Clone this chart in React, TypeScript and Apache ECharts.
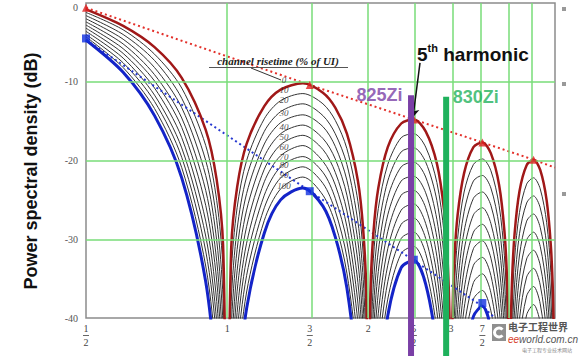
import React, { useEffect, useRef } from 'react';
import * as echarts from 'echarts';

// frequency (in units of the bit rate) of the sampled points
const FREQ = [0.5, 0.6, 0.7, 0.8, 0.9, 0.95, 0.98, 1.0,
  1.02, 1.05, 1.1, 1.2, 1.3, 1.45, 1.6, 1.7, 1.8, 1.9, 1.95, 1.98, 2.0,
  2.02, 2.05, 2.1, 2.2, 2.35, 2.5, 2.65, 2.8, 2.9, 2.95, 2.98, 3.0,
  3.02, 3.05, 3.1, 3.2, 3.35, 3.5, 3.65, 3.8, 3.9, 3.95, 3.98, 4.0,
  4.02, 4.05, 4.1, 4.2, 4.35, 4.5, 4.65, 4.8, 4.9, 4.95, 4.98, 5.0];

// power spectral density (dB) for channel risetime 0 % ... 100 % of UI
const RT0 = [-0.8, -2.9, -5.6, -9.5, -16.1, -22.5, -30.7, -60,
  -31.1, -23.4, -17.9, -13.1, -11.0, -10.2, -11.4, -13.3, -16.6, -22.6, -28.8, -36.8, -60,
  -37.0, -29.2, -23.5, -18.3, -15.3, -14.8, -16.3, -20.4, -26.3, -32.4, -40.4, -60,
  -40.5, -32.7, -26.9, -21.6, -18.3, -17.7, -19.1, -23.1, -28.9, -34.9, -42.9, -60,
  -43.0, -35.1, -29.3, -23.9, -20.6, -19.9, -21.2, -25.1, -30.9, -36.9, -44.8, -60];
const RT10 = [-1.2, -3.4, -6.5, -10.8, -18.1, -25.1, -34.1, -60,
  -34.5, -26.0, -20.0, -14.7, -12.4, -11.5, -12.8, -14.9, -18.5, -25.2, -31.9, -40.8, -60,
  -41.0, -32.4, -26.1, -20.5, -17.1, -16.6, -18.3, -22.8, -29.2, -35.9, -44.7, -60,
  -44.8, -36.2, -29.9, -24.0, -20.5, -19.8, -21.3, -25.7, -32.1, -38.7, -47.5, -60,
  -47.6, -38.9, -32.5, -26.6, -23.0, -22.2, -23.6, -27.9, -34.2, -40.9, -49.6, -60];
const RT20 = [-1.6, -4.0, -7.3, -12.1, -20.0, -27.6, -37.5, -60,
  -37.9, -28.7, -22.1, -16.3, -13.8, -12.8, -14.3, -16.6, -20.5, -27.8, -35.1, -44.8, -60,
  -45.0, -35.7, -28.8, -22.6, -18.9, -18.4, -20.2, -25.1, -32.2, -39.5, -49.1, -60,
  -49.2, -39.8, -32.9, -26.5, -22.6, -21.9, -23.5, -28.3, -35.3, -42.5, -52.1, -60,
  -52.2, -42.8, -35.8, -29.3, -25.4, -24.5, -26.0, -30.7, -37.6, -44.9, -54.4, -60];
const RT30 = [-2.0, -4.6, -8.2, -13.3, -21.9, -30.2, -40.9, -60,
  -41.3, -31.3, -24.2, -17.9, -15.2, -14.2, -15.7, -18.2, -22.5, -30.3, -38.3, -48.8, -60,
  -49.0, -38.9, -31.5, -24.7, -20.8, -20.2, -22.1, -27.5, -35.1, -43.0, -53.4, -60,
  -53.6, -43.4, -35.9, -29.0, -24.8, -24.0, -25.7, -30.9, -38.4, -46.3, -56.7, -60,
  -56.8, -46.6, -39.0, -32.0, -27.7, -26.8, -28.5, -33.5, -41.0, -48.8, -59.2, -60];
const RT40 = [-2.4, -5.2, -9.1, -14.6, -23.8, -32.8, -44.2, -60,
  -44.7, -34.0, -26.3, -19.5, -16.6, -15.5, -17.2, -19.8, -24.4, -32.9, -41.5, -52.8, -60,
  -53.0, -42.1, -34.1, -26.9, -22.6, -22.0, -24.1, -29.8, -38.0, -46.5, -60, -60,
  -60, -47.0, -38.9, -31.4, -26.9, -26.0, -28.0, -33.5, -41.6, -50.1, -60, -60,
  -60, -50.4, -42.3, -34.7, -30.1, -29.1, -30.9, -36.4, -44.4, -52.8, -60, -60];
const RT50 = [-2.8, -5.8, -9.9, -15.8, -25.7, -35.3, -47.6, -60,
  -48.1, -36.6, -28.4, -21.1, -18.0, -16.8, -18.6, -21.5, -26.4, -35.5, -44.7, -60, -60,
  -60, -45.4, -36.8, -29.0, -24.4, -23.8, -26.0, -32.2, -41.0, -50.1, -60, -60,
  -60, -50.5, -41.9, -33.9, -29.1, -28.1, -30.2, -36.1, -44.8, -53.9, -60, -60,
  -60, -54.2, -45.5, -37.4, -32.5, -31.4, -33.3, -39.2, -47.8, -60, -60, -60];
const RT60 = [-3.2, -6.4, -10.8, -17.1, -27.7, -37.9, -51.0, -60,
  -51.5, -39.3, -30.5, -22.7, -19.4, -18.1, -20.1, -23.1, -28.4, -38.1, -47.9, -60, -60,
  -60, -48.6, -39.4, -31.2, -26.3, -25.5, -28.0, -34.5, -43.9, -53.6, -60, -60,
  -60, -54.1, -44.9, -36.4, -31.2, -30.2, -32.4, -38.8, -48.0, -60, -60, -60,
  -60, -58.0, -48.7, -40.1, -34.8, -33.7, -35.8, -42.0, -51.2, -60, -60, -60];
const RT70 = [-3.6, -7.0, -11.7, -18.4, -29.6, -40.5, -54.4, -60,
  -55.0, -41.9, -32.5, -24.4, -20.8, -19.5, -21.5, -24.8, -30.3, -40.6, -51.1, -60, -60,
  -60, -51.8, -42.1, -33.3, -28.1, -27.3, -29.9, -36.9, -46.9, -60, -60, -60,
  -60, -57.7, -47.8, -38.8, -33.3, -32.3, -34.6, -41.4, -51.2, -60, -60, -60,
  -60, -60, -52.0, -42.9, -37.2, -36.0, -38.2, -44.8, -54.6, -60, -60, -60];
const RT80 = [-4.0, -7.6, -12.5, -19.6, -31.5, -43.0, -60, -60,
  -60, -44.6, -34.6, -26.0, -22.2, -20.8, -22.9, -26.4, -32.3, -43.2, -54.2, -60, -60,
  -60, -55.0, -44.8, -35.4, -29.9, -29.1, -31.8, -39.2, -49.8, -60, -60, -60,
  -60, -60, -50.8, -41.3, -35.5, -34.4, -36.8, -44.0, -54.4, -60, -60, -60,
  -60, -60, -55.2, -45.6, -39.6, -38.3, -40.6, -47.6, -60, -60, -60, -60];
const RT90 = [-4.3, -8.2, -13.4, -20.9, -33.4, -45.6, -60, -60,
  -60, -47.2, -36.7, -27.6, -23.6, -22.1, -24.4, -28.0, -34.3, -45.8, -60, -60, -60,
  -60, -58.3, -47.4, -37.6, -31.8, -30.9, -33.8, -41.6, -52.7, -60, -60, -60,
  -60, -60, -53.8, -43.8, -37.6, -36.5, -39.1, -46.6, -57.6, -60, -60, -60,
  -60, -60, -58.5, -48.3, -41.9, -40.6, -43.1, -50.5, -60, -60, -60, -60];
const RT100 = [-4.7, -8.8, -14.3, -22.2, -35.4, -48.1, -60, -60,
  -60, -49.9, -38.8, -29.2, -25.0, -23.5, -25.8, -29.7, -36.2, -48.3, -60, -60, -60,
  -60, -60, -50.1, -39.7, -33.6, -32.7, -35.7, -43.9, -55.7, -60, -60, -60,
  -60, -60, -56.8, -46.2, -39.8, -38.5, -41.3, -49.2, -60, -60, -60, -60,
  -60, -60, -60, -51.0, -44.3, -42.9, -45.5, -53.3, -60, -60, -60, -60];

const MID_CURVES = [RT10, RT20, RT30, RT40, RT50, RT60, RT70, RT80, RT90];

// risetime labels placed on the curves of the 2nd lobe
const RISE_PCT = ['0', '10', '20', '30', '40', '50', '60', '70', '80', '90', '100'];
const RISE_LABEL_F = 1.322;
const RISE_LABEL_DB = [-9.8, -11.0, -12.3, -14.0, -15.7, -17.0, -18.3, -19.5, -20.6, -21.8, -23.2];

// envelopes and lobe peak markers
const RED_ENV_F = [0.5, 1.5, 2.5, 3.5, 4.5, 5];
const RED_ENV_DB = [-0.6, -10.4, -14.8, -17.7, -19.9, -20.9];
const RED_PEAK_F = [0.5, 1.5, 2.5, 3.5, 4.5];
const RED_PEAK_DB = [-0.6, -10.4, -14.8, -17.7, -19.9];
const BLUE_ENV_F = [0.5, 1.5, 2.5, 3.5, 3.72];
const BLUE_ENV_DB = [-4.7, -23.9, -32.7, -38.5, -40];
const BLUE_PEAK_F = [0.5, 1.5, 2.5, 3.5];
const BLUE_PEAK_DB = [-4.5, -23.9, -32.6, -38.1];

// oscilloscope bandwidth markers
const SCOPE_NAMES = ['825Zi', '830Zi'];
const SCOPE_F = [2.466, 2.93];
const SCOPE_TOP_DB = [-11.7, -11.9];
const SCOPE_COLORS = ['#7a3fa6', '#1fb15c'];

// axes
const TICKS = [0.5, 1, 1.5, 2, 2.5, 3, 3.5];
const TICK_TEXT = [['1', '2'], ['1'], ['3', '2'], ['2'], ['5', '2'], ['3'], ['7', '2']];
const GRID_X = [1, 1.5, 2, 2.5, 3, 3.5, 4, 4.5];
const GRID_Y = [-10, -20, -30];
const HARMONIC_ARROW_F = [2.577, 2.49];
const HARMONIC_ARROW_DB = [-7.6, -14.5];

const lx = (f: number) => Math.log10(f);
const pts = (vals: number[]) => FREQ.map((f, i) => [lx(f), vals[i]]);
const SERIF = '"Liberation Serif", "DejaVu Serif", serif';
const SANS = '"Liberation Sans", Arial, sans-serif';

export default function App() {
  const ref = useRef<HTMLDivElement>(null);
  useEffect(() => {
    if (!ref.current) return;
    const chart = echarts.init(ref.current, null, { renderer: 'svg' });

    const series: any[] = [];
    // grid lines
    series.push({
      type: 'line', data: [[lx(0.5), 0]], showSymbol: false, silent: true, z: 1,
      lineStyle: { width: 0 },
      markLine: {
        silent: true, symbol: ['none', 'none'], label: { show: false },
        lineStyle: { color: '#78dc78', width: 1.5, type: 'solid' },
        data: [...GRID_X.map((f) => ({ xAxis: lx(f) })), ...GRID_Y.map((v) => ({ yAxis: v }))],
      },
    });
    MID_CURVES.forEach((c) => {
      series.push({
        type: 'line', data: pts(c), showSymbol: false, smooth: 0.3, z: 2,
        lineStyle: { color: '#333', width: 1 },
      });
    });
    series.push({
      type: 'line', data: RED_ENV_F.map((f, i) => [lx(f), RED_ENV_DB[i]]), showSymbol: false, z: 3,
      lineStyle: { color: '#e3302a', width: 2, type: [2, 3] },
    });
    series.push({
      type: 'line', data: BLUE_ENV_F.map((f, i) => [lx(f), BLUE_ENV_DB[i]]), showSymbol: false, z: 3,
      lineStyle: { color: '#2638d0', width: 2, type: [2, 3] },
    });
    series.push({
      type: 'line', data: pts(RT0), showSymbol: false, smooth: 0.3, z: 4,
      lineStyle: { color: '#a01818', width: 2.5 },
    });
    series.push({
      type: 'line', data: pts(RT100), showSymbol: false, smooth: 0.3, z: 4,
      lineStyle: { color: '#1424c8', width: 3 },
    });
    series.push({
      type: 'scatter', data: RED_PEAK_F.map((f, i) => [lx(f), RED_PEAK_DB[i]]), z: 5,
      symbol: 'triangle', symbolSize: 8, itemStyle: { color: '#e02020' },
    });
    series.push({
      type: 'scatter', data: BLUE_PEAK_F.map((f, i) => [lx(f), BLUE_PEAK_DB[i]]), z: 5,
      symbol: 'rect', symbolSize: 8, itemStyle: { color: '#1030e0' },
    });
    series.push({
      type: 'scatter', z: 6, symbol: 'circle', symbolSize: 1,
      itemStyle: { color: 'rgba(0,0,0,0)' },
      data: RISE_PCT.map((t, i) => ({ value: [lx(RISE_LABEL_F), RISE_LABEL_DB[i]], name: t })),
      label: {
        show: true, position: 'inside', formatter: (p: any) => p.name,
        fontFamily: SERIF, fontStyle: 'italic', fontSize: 9, lineHeight: 7, color: '#222',
      },
    });
    // harmonic arrow
    series.push({
      type: 'line', data: [], z: 9,
      markLine: {
        silent: true, symbol: ['none', 'arrow'], symbolSize: 8, label: { show: false },
        lineStyle: { color: '#111', width: 1.5, type: 'solid' },
        data: [[
          { coord: [lx(HARMONIC_ARROW_F[0]), HARMONIC_ARROW_DB[0]] },
          { coord: [lx(HARMONIC_ARROW_F[1]), HARMONIC_ARROW_DB[1]] },
        ]],
      },
    });
    SCOPE_NAMES.forEach((name, i) => {
      series.push({
        type: 'line', clip: false, showSymbol: false, z: 8,
        data: [[lx(SCOPE_F[i]), SCOPE_TOP_DB[i]], [lx(SCOPE_F[i]), -45]],
        lineStyle: { color: SCOPE_COLORS[i], width: 6 },
      });
      series.push({
        type: 'scatter', z: 8, symbolSize: 1, itemStyle: { color: 'rgba(0,0,0,0)' },
        data: [{ value: [lx(SCOPE_F[i]), SCOPE_TOP_DB[i]], name }],
        label: {
          show: true, position: i === 0 ? 'left' : 'right', distance: i === 0 ? 8 : 6,
          formatter: (p: any) => p.name, fontFamily: SANS, fontWeight: 'bold', fontSize: 18,
          color: SCOPE_COLORS[i],
        },
      });
    });

    const option: any = {
      animation: false,
      grid: { left: 86, right: 27, top: 3, bottom: 38, show: true, borderColor: '#8c8c8c', borderWidth: 1.5, outerBoundsMode: 'none' },
      xAxis: {
        type: 'value', min: lx(0.5), max: lx(5),
        axisLine: { show: false }, axisTick: { show: false }, splitLine: { show: false },
        axisLabel: {
          customValues: TICKS.map(lx), margin: 6, color: '#444',
          formatter: (v: number) => {
            const i = TICKS.findIndex((t) => Math.abs(lx(t) - v) < 1e-6);
            if (i < 0) return '';
            const t = TICK_TEXT[i];
            return t.length === 2 ? `{n|${t[0]}}\n{bar| }\n{n|${t[1]}}` : `{n|${t[0]}}`;
          },
          rich: {
            n: { fontFamily: SERIF, fontSize: 10, lineHeight: 9, color: '#444' },
            bar: { width: 6, height: 1, lineHeight: 5, fontSize: 1, backgroundColor: '#666' },
          },
        },
      },
      yAxis: {
        type: 'value', min: -40, max: 0, interval: 10,
        axisLine: { show: false }, axisTick: { show: false }, splitLine: { show: false },
        axisLabel: {
          margin: 8, fontFamily: SERIF, fontSize: 10, lineHeight: 8, color: '#555',
          verticalAlignMaxLabel: 'top',
        },
      },
      series,
      graphic: [
        {
          type: 'text', x: 31, y: 171, rotation: Math.PI / 2, z: 10,
          style: { text: 'Power spectral density (dB)', font: `bold 18px ${SANS}`, fill: '#111', textAlign: 'center', textVerticalAlign: 'middle' },
        },
        {
          type: 'text', x: 417, y: 53, z: 10,
          style: {
            text: '{a|5}{s|th}{a| harmonic}', textVerticalAlign: 'middle',
            rich: {
              a: { font: `bold 19px ${SANS}`, fill: '#111', lineHeight: 22, verticalAlign: 'bottom' },
              s: { font: `bold 11px ${SANS}`, fill: '#111', lineHeight: 22, verticalAlign: 'top' },
            },
          },
        },
        {
          type: 'text', x: 278, y: 61, z: 10,
          style: { text: 'channel risetime (% of UI)', font: `italic bold 11px ${SERIF}`, fill: '#222', textAlign: 'center', textVerticalAlign: 'middle' },
        },
        { type: 'line', z: 10, shape: { x1: 209, y1: 67.5, x2: 348, y2: 67.5 }, style: { stroke: '#555', lineWidth: 1 } },
        { type: 'line', z: 10, shape: { x1: 251, y1: 68, x2: 281, y2: 80 }, style: { stroke: '#333', lineWidth: 1 } },
        { type: 'rect', z: 10, shape: { x: 562, y: 7, width: 4, height: 4 }, style: { fill: '#999' } },
        { type: 'rect', z: 10, shape: { x: 562, y: 82, width: 4, height: 4 }, style: { fill: '#999' } },
        { type: 'rect', z: 10, shape: { x: 562, y: 192, width: 4, height: 4 }, style: { fill: '#999' } },
        // watermark
        { type: 'rect', z: 20, shape: { x: 490, y: 319, width: 92, height: 37 }, style: { fill: 'rgba(255,255,255,0.9)' } },
        { type: 'rect', z: 21, shape: { x: 492, y: 324, width: 14, height: 17 }, style: { fill: '#8f8f8f' } },
        { type: 'arc', z: 22, shape: { cx: 499, cy: 332.5, r: 4.5, startAngle: 0.7, endAngle: Math.PI * 2 - 0.7 }, style: { stroke: '#fff', lineWidth: 3, fill: 'none' } },
        { type: 'text', z: 22, x: 508, y: 326, style: { text: '电子工程世界', font: `bold 10px "Noto Sans CJK SC", sans-serif`, fill: '#555', textVerticalAlign: 'middle' } },
        {
          type: 'text', z: 22, x: 508, y: 339,
          style: {
            text: '{r|ee}{g|world.com.cn}', textVerticalAlign: 'middle',
            rich: {
              r: { font: `italic 10px ${SANS}`, fill: '#d8402a' },
              g: { font: `italic 10px ${SANS}`, fill: '#555' },
            },
          },
        },
        { type: 'text', z: 22, x: 522, y: 349, style: { text: '电子工程专业技术网站', font: `5px "Noto Sans CJK SC", sans-serif`, fill: '#888', textVerticalAlign: 'middle' } },
      ],
    };
    chart.setOption(option);
    return () => chart.dispose();
  }, []);
  return <div ref={ref} style={{ position: 'fixed', left: 0, top: 0, width: 582, height: 356, background: '#fff' }} />;
}
